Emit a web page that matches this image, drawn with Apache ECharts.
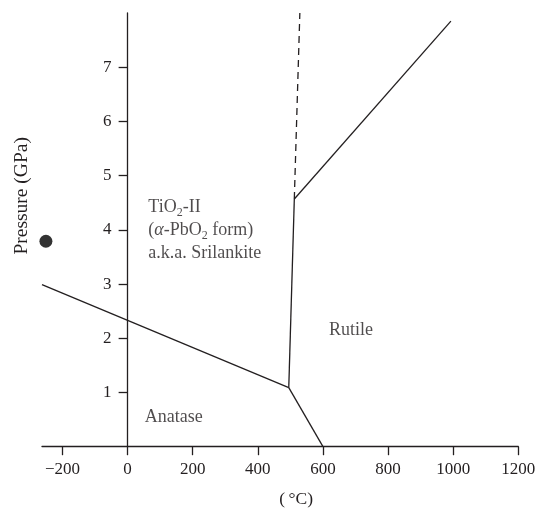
<!DOCTYPE html>
<html>
<head>
<meta charset="utf-8">
<script src="https://cdn.jsdelivr.net/npm/echarts@6/dist/echarts.min.js"></script>
<style>
html,body{margin:0;padding:0;background:#fff;}
#chart{width:550px;height:513px;}
</style>
</head>
<body>
<div id="chart"></div>
<script>
// Phase boundaries (temperature °C, pressure GPa)
const boundaryAnataseTiO2II = [[-263, 2.99], [495, 1.09]];
const boundaryAnataseRutile = [[495, 1.09], [600, 0]];
const boundaryTiO2IIRutileLow = [[495, 1.09], [512, 4.57]];
const boundaryTiO2IIRutileHigh = [[512, 4.57], [993, 7.85]];
const boundaryDashed = [[512, 4.57], [529, 8.0]];
const samplePoint = [[-251, 3.79]];

// Axis ranges and tick values
const xMin = -263, xMax = 1200;
const yMin = 0, yMax = 8;
const xTicks = [-200, 0, 200, 400, 600, 800, 1000, 1200];
const yTicks = [1, 2, 3, 4, 5, 6, 7];

// Region labels [x, y, text]
const regionTiO2II = [62, 4.0, '{n|TiO}{s|2}{n|-II}\n{n|(}{i|α}{n|-PbO}{s|2}{n| form)}\n{n|a.k.a. Srilankite}'];
const regionRutile = [686, 2.15, '{n|Rutile}'];
const regionAnatase = [142, 0.55, '{n|Anatase}'];

const INK = '#231f20';
const FONT = '"Liberation Serif", "DejaVu Serif", serif';

const rich = {
  n: { fontFamily: FONT, fontSize: 18, lineHeight: 23, color: INK },
  i: { fontFamily: FONT, fontSize: 18, lineHeight: 23, color: INK, fontStyle: 'italic' },
  s: { fontFamily: FONT, fontSize: 12, lineHeight: 12, color: INK, verticalAlign: 'bottom' }
};

function lineSeries(data, dashed) {
  return {
    type: 'line',
    data: data,
    symbol: 'none',
    silent: true,
    clip: false,
    animation: false,
    lineStyle: { color: INK, width: 1.3, type: dashed ? [7, 5] : 'solid' }
  };
}

// Pixel layout of the plotting area
const gLeft = 42, gRight = 31.7, gTop = 13, gBottom = 66.3;
const plotW = 550 - gLeft - gRight;
// second grid starts where x = 0 sits, so its y axis line lies on x = 0
const zeroLeft = gLeft + plotW * (0 - xMin) / (xMax - xMin);

const chart = echarts.init(document.getElementById('chart'), null, { renderer: 'canvas' });
chart.setOption({
  backgroundColor: '#fff',
  animation: false,
  grid: [
    { left: gLeft, right: gRight, top: gTop, bottom: gBottom, containLabel: false, outerBoundsMode: 'none' },
    { left: zeroLeft, right: gRight, top: gTop, bottom: gBottom, containLabel: false, outerBoundsMode: 'none' }
  ],
  xAxis: [{
    gridIndex: 0,
    type: 'value',
    min: xMin,
    max: xMax,
    name: '(\u2009°C)',
    nameLocation: 'middle',
    nameGap: 44,
    nameTextStyle: { fontFamily: FONT, fontSize: 17.5, color: INK, padding: [0, 0, 0, 32] },
    splitLine: { show: false },
    axisLine: { show: true, onZero: false, lineStyle: { color: INK, width: 1.3 } },
    axisTick: { show: true, length: 8.5, customValues: xTicks, lineStyle: { color: INK, width: 1.3 } },
    axisLabel: {
      customValues: xTicks,
      margin: 14,
      fontFamily: FONT, fontSize: 17, color: INK,
      formatter: v => String(v).replace('-', '\u2212')
    }
  }, {
    gridIndex: 1,
    type: 'value',
    min: 0,
    max: xMax,
    show: false
  }],
  yAxis: [{
    gridIndex: 0,
    type: 'value',
    min: yMin,
    max: yMax,
    show: false
  }, {
    gridIndex: 1,
    type: 'value',
    min: yMin,
    max: yMax,
    name: 'Pressure (GPa)',
    nameLocation: 'middle',
    nameGap: 96,
    nameMoveOverlap: false,
    nameTextStyle: { fontFamily: FONT, fontSize: 19.5, color: INK, padding: [0, 0, 0, 68] },
    splitLine: { show: false },
    axisLine: { show: true, onZero: false, lineStyle: { color: INK, width: 1.3 } },
    axisTick: { show: true, length: 9, customValues: yTicks, lineStyle: { color: INK, width: 1.3 } },
    axisLabel: { customValues: yTicks, margin: 16, fontFamily: FONT, fontSize: 17, color: INK }
  }],
  series: [
    lineSeries(boundaryAnataseTiO2II, false),
    lineSeries(boundaryAnataseRutile, false),
    lineSeries(boundaryTiO2IIRutileLow, false),
    lineSeries(boundaryTiO2IIRutileHigh, false),
    lineSeries(boundaryDashed, true),
    {
      type: 'scatter',
      data: samplePoint,
      symbol: 'circle',
      symbolSize: 13,
      itemStyle: { color: '#000' },
      silent: true
    },
    {
      type: 'scatter',
      silent: true,
      symbolSize: 1,
      itemStyle: { color: 'rgba(0,0,0,0)' },
      data: [
        { value: [regionTiO2II[0], regionTiO2II[1]],
          label: { show: true, position: 'right', distance: 0, align: 'left', verticalAlign: 'middle', formatter: regionTiO2II[2], rich: rich } },
        { value: [regionRutile[0], regionRutile[1]],
          label: { show: true, position: 'inside', formatter: regionRutile[2], rich: rich } },
        { value: [regionAnatase[0], regionAnatase[1]],
          label: { show: true, position: 'inside', formatter: regionAnatase[2], rich: rich } }
      ]
    }
  ]
});
</script>
</body>
</html>
